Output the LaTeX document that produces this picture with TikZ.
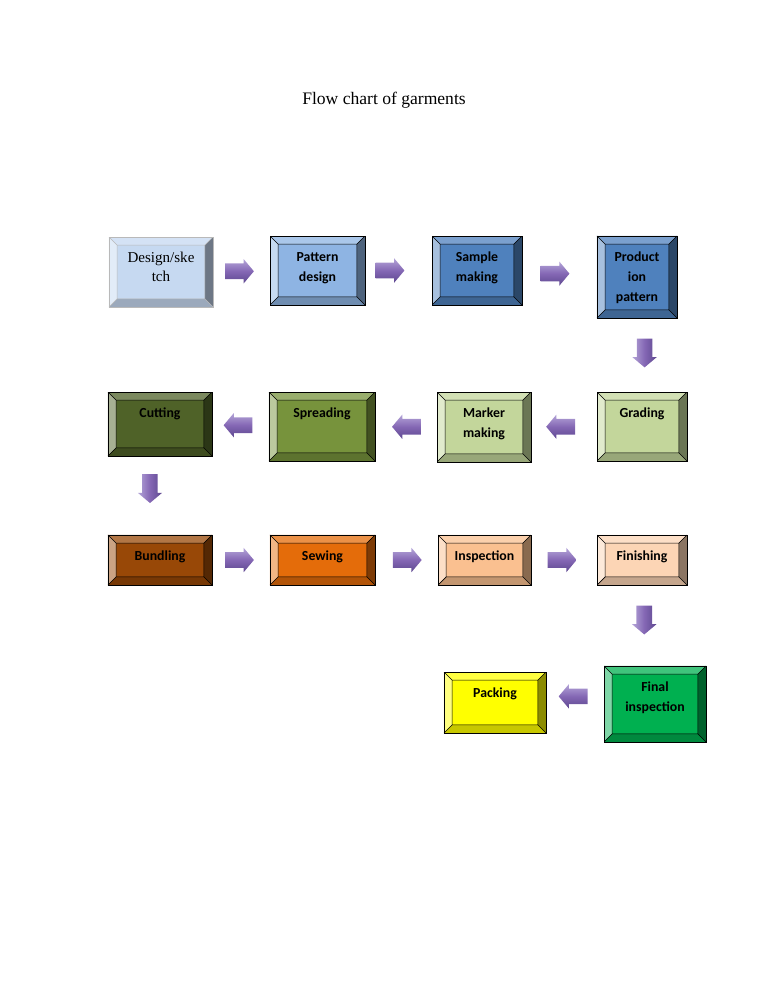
\documentclass[tikz,border=0pt]{standalone}
\usepackage{fontspec}
\setmainfont{Liberation Serif}
\newfontfamily\calibrifont{Carlito}
\usetikzlibrary{calc,shapes.arrows}

\definecolor{designface}{HTML}{C6D9F1}
\definecolor{patternface}{HTML}{8EB4E3}
\definecolor{sampleface}{HTML}{4F81BD}
\definecolor{gradingface}{HTML}{C3D69B}
\definecolor{spreadface}{HTML}{77933C}
\definecolor{cutface}{HTML}{4F6228}
\definecolor{bundleface}{HTML}{984807}
\definecolor{sewface}{HTML}{E46C0A}
\definecolor{inspface}{HTML}{FAC090}
\definecolor{finishface}{HTML}{FCD5B5}
\definecolor{finalface}{HTML}{00B050}
\definecolor{packface}{HTML}{FFFF00}
\definecolor{arrowlight}{HTML}{B4A5D8}
\definecolor{arrowmid}{HTML}{8467B4}
\definecolor{arrowdark}{HTML}{5E4890}

\begin{document}
\begin{tikzpicture}[
  x=0.797pt, y=-0.797pt,
  font=\calibrifont\bfseries\fontsize{11}{16}\selectfont,
  bevelbox/.style 2 args={draw=#2, line width=0.6pt, fill=#1, inner sep=0pt,
    path picture={
      \path (path picture bounding box.north west) coordinate (A)
            (path picture bounding box.north east) coordinate (B)
            (path picture bounding box.south east) coordinate (C)
            (path picture bounding box.south west) coordinate (D);
      \path ($(A)+(6.5pt,-6.5pt)$) coordinate (a) ($(B)+(-6.5pt,-6.5pt)$) coordinate (b)
            ($(C)+(-6.5pt,6.5pt)$) coordinate (c) ($(D)+(6.5pt,6.5pt)$) coordinate (d);
      \fill[#1!75!white] (A) -- (B) -- (b) -- (a) -- cycle;
      \fill[#1!50!white] (A) -- (a) -- (d) -- (D) -- cycle;
      \fill[#1!55!black] (B) -- (C) -- (c) -- (b) -- cycle;
      \fill[#1!78!black] (D) -- (d) -- (c) -- (C) -- cycle;
      \draw[#2, line width=0.5pt] (a) rectangle (c) (A) -- (a) (B) -- (b) (C) -- (c) (D) -- (d);
    }},
  box/.style={bevelbox={#1}{black}},
  txt/.style={anchor=north, yshift=-9.5pt, align=center, inner sep=0pt},
  blockarrow/.style={single arrow, draw=none, inner sep=6pt, minimum height=23pt,
                     minimum width=19pt, single arrow head extend=3.5pt,
                     single arrow tip angle=100},
  rarrow/.style={blockarrow, xshift=-2pt, top color=arrowlight, bottom color=arrowdark,
                 middle color=arrowmid},
  larrow/.style={blockarrow, xshift=2pt, shape border rotate=180, top color=arrowlight,
                 bottom color=arrowdark, middle color=arrowmid},
  darrow/.style={blockarrow, yshift=2.5pt, shape border rotate=270, left color=arrowlight,
                 right color=arrowdark, middle color=arrowmid}
]
\useasboundingbox (0,0) rectangle (768,994);

\node[font=\rmfamily\mdseries\fontsize{14}{17}\selectfont] (title) at (384,100) {Flow chart of garments};

% ── row 1 ───────────────────────────────────────────────────────────────────
\node[bevelbox={designface}{gray!55}, minimum width=82.9pt, minimum height=55.8pt,
      label={[txt, font=\rmfamily\mdseries\fontsize{12}{15.5}\selectfont]north:\strut Design/ske\\tch}] (design) at (161,272) {};
\node[box=patternface, minimum width=75.7pt, minimum height=55pt,
      label={[txt]north:\strut Pattern\\design}] (pattern) at (317.5,270.5) {};
\node[box=sampleface, minimum width=71.7pt, minimum height=55pt,
      label={[txt]north:\strut Sample\\making}] (sample) at (477,270.5) {};
\node[box=sampleface, minimum width=63.8pt, minimum height=65.4pt,
      label={[txt]north:\strut Product\\ion\\pattern}] (production) at (637,277) {};

% ── row 2 ───────────────────────────────────────────────────────────────────
\node[box=gradingface, minimum width=71.7pt, minimum height=55pt,
      label={[txt]north:\strut Grading}] (grading) at (642,426.5) {};
\node[box=gradingface, minimum width=74.9pt, minimum height=55.8pt,
      label={[txt]north:\strut Marker\\making}] (marker) at (484,427) {};
\node[box=spreadface, minimum width=84.5pt, minimum height=55pt,
      label={[txt]north:\strut Spreading}] (spreading) at (322,426.5) {};
\node[box=cutface, minimum width=82.9pt, minimum height=51pt,
      label={[txt]north:\strut Cutting}] (cutting) at (160,424) {};

% ── row 3 ───────────────────────────────────────────────────────────────────
\node[box=bundleface, minimum width=82.9pt, minimum height=39.9pt,
      label={[txt]north:\strut Bundling}] (bundling) at (160,560) {};
\node[box=sewface, minimum width=83.7pt, minimum height=39.9pt,
      label={[txt]north:\strut Sewing}] (sewing) at (322.5,560) {};
\node[box=inspface, minimum width=74.1pt, minimum height=39.9pt,
      label={[txt]north:\strut Inspection}] (inspection) at (484.5,560) {};
\node[box=finishface, minimum width=71.7pt, minimum height=39.9pt,
      label={[txt]north:\strut Finishing}] (finishing) at (642,560) {};

% ── row 4 ───────────────────────────────────────────────────────────────────
\node[box=finalface, minimum width=81.3pt, minimum height=60.6pt,
      label={[txt]north:\strut Final\\inspection}] (final) at (655,704) {};
\node[box=packface, minimum width=81.3pt, minimum height=48.6pt,
      label={[txt]north:\strut Packing}] (packing) at (495,702.5) {};

% ── block arrows ────────────────────────────────────────────────────────────
\path (design) -- node[rarrow, pos=0.45] (a1) {} (pattern);
\path (pattern) -- node[rarrow, pos=0.36] (a2) {} (sample);
\path (sample) -- node[rarrow, pos=0.43] (a3) {} (production);
\path (production) -- node[darrow, pos=0.47, xshift=4pt] (a4) {} (grading);
\path (grading) -- node[larrow, pos=0.54] (a5) {} (marker);
\path (marker) -- node[larrow, pos=0.48] (a6) {} (spreading);
\path (spreading) -- node[larrow, pos=0.53] (a7) {} (cutting);
\path (cutting) -- node[darrow, pos=0.41, xshift=-8pt] (a8) {} (bundling);
\path (bundling) -- node[rarrow, pos=0.46] (a9) {} (sewing);
\path (sewing) -- node[rarrow, pos=0.5] (a10) {} (inspection);
\path (inspection) -- node[rarrow, pos=0.46] (a11) {} (finishing);
\path (finishing) -- node[darrow, pos=0.43, xshift=-2.5pt] (a12) {} (final);
\path (final) -- node[larrow, pos=0.52, yshift=5.5pt] (a13) {} (packing);
\end{tikzpicture}
\end{document}
